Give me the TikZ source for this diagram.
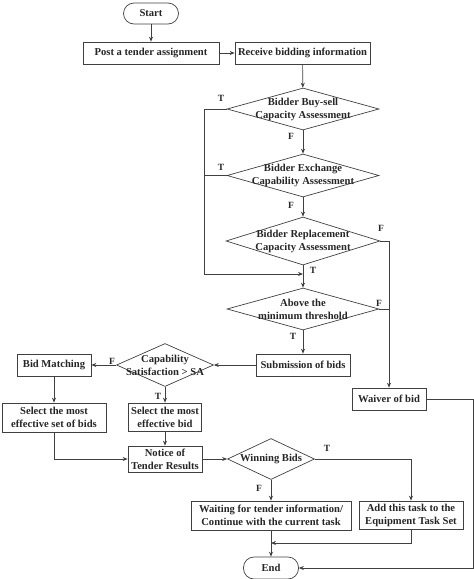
\documentclass[tikz,border=0pt]{standalone}
\usepackage{fontspec}
\setmainfont{Liberation Serif}
\usetikzlibrary{shapes.geometric,arrows.meta}
\begin{document}
\begin{tikzpicture}[x=1pt,y=-1pt,
  every node/.style={font=\bfseries\fontsize{10.6}{13}\selectfont, text=black!85},
  box/.style={draw=black!75, line width=0.7pt, rectangle, inner sep=0pt, align=center},
  term/.style={draw=black!75, line width=0.7pt, rectangle, rounded corners=10.5pt, inner sep=0pt},
  dec/.style={draw=black!75, line width=0.7pt, diamond, inner sep=0pt},
  dtext/.style={align=center, inner sep=0pt},
  lbl/.style={font=\bfseries\fontsize{9.5}{10}\selectfont, inner sep=0pt},
  line/.style={draw=black!75, line width=0.7pt},
  arr/.style={line, -{Stealth[length=5pt,width=4pt]}}
]
\useasboundingbox (0,0) rectangle (474,579);

\node[term, minimum width=55pt, minimum height=21pt] (start) at (151,13.5) {Start};
\node[box, minimum width=136pt, minimum height=22pt] (post) at (151,53) {Post a tender assignment};
\node[box, minimum width=135pt, minimum height=22pt] (recv) at (302.5,53) {Receive bidding information};

\node[dec, minimum width=152pt, minimum height=42pt] (d1) at (303,109) {};
\node[dtext] (t1) at (d1) {Bidder Buy-sell\\Capacity Assessment};
\node[dec, minimum width=152pt, minimum height=43pt] (d2) at (303,175.5) {};
\node[dtext] (t2) at (d2) {Bidder Exchange\\Capability Assessment};
\node[dec, minimum width=154pt, minimum height=48pt] (d3) at (303,241) {};
\node[dtext] (t3) at (d3) {Bidder Replacement\\Capacity Assessment};
\node[dec, minimum width=152pt, minimum height=42pt] (d4) at (303,309) {};
\node[dtext] (t4) at (d4) {Above the\\minimum threshold};

\node[box, minimum width=94pt, minimum height=22pt] (sub) at (303,365) {Submission of bids};
\node[dec, minimum width=97pt, minimum height=43pt] (d5) at (165,365) {};
\node[dtext] (t5) at (d5) {Capability\\Satisfaction > SA};
\node[box, minimum width=74pt, minimum height=22pt] (bm) at (54,365) {Bid Matching};
\node[box, minimum width=104pt, minimum height=29pt] (selset) at (54,417.5) {Select the most\\effective set of bids};
\node[box, minimum width=73pt, minimum height=28pt] (selbid) at (165,417) {Select the most\\effective bid};
\node[box, minimum width=74pt, minimum height=26pt] (notice) at (165,459) {Notice of\\Tender Results};
\node[dec, minimum width=87pt, minimum height=41pt] (d6) at (271,459) {};
\node[dtext] (t6) at (d6) {Winning Bids};
\node[box, minimum width=160pt, minimum height=29pt] (wait) at (271,515.5) {Waiting for tender information/\\Continue with the current task};
\node[box, minimum width=104pt, minimum height=28pt] (add) at (411,515) {Add this task to the\\Equipment Task Set};
\node[box, minimum width=74pt, minimum height=22pt] (waiver) at (389,399) {Waiver of bid};
\node[term, minimum width=55pt, minimum height=22pt] (end) at (271,568) {End};

\coordinate (lx) at (204,0);
\coordinate (ly) at (303,274);
\coordinate (rx) at (389,0);
\coordinate (mg) at (271,543);
\coordinate (rr) at (473,0);

\draw[arr] (start) -- (post);
\draw[arr] (post) -- (recv);
\draw[arr] (recv) -- (d1);
\draw[arr] (d1) -- (d2);
\draw[arr] (d2) -- (d3);
\draw[arr] (d3) -- (d4);
\draw[arr] (d1.west) -- (d1.west -| lx) |- (ly);
\draw[line] (d2.west) -- (d2.west -| lx);
\draw[arr] (d3.east) -- (d3.east -| rx) -- (waiver.north);
\draw[line] (d4.east) -- (d4.east -| rx);
\draw[arr] (d4) -- (sub);
\draw[arr] (sub) -- (d5);
\draw[arr] (d5) -- (bm);
\draw[arr] (bm) -- (selset);
\draw[arr] (d5) -- (selbid);
\draw[arr] (selbid) -- (notice);
\draw[arr] (selset.south) |- (notice.west);
\draw[arr] (notice) -- (d6);
\draw[arr] (d6.east) -| (add.north);
\draw[arr] (d6) -- (wait);
\draw[arr] (wait) -- (end);
\draw[arr] (add.south) |- (mg);
\draw[arr] (waiver.east) -- (waiver.east -| rr) |- (end.east);

\node[lbl] (l1) at (221,98) {T};
\node[lbl] (l2) at (221,167) {T};
\node[lbl] (l3) at (291,136) {F};
\node[lbl] (l4) at (291,205) {F};
\node[lbl] (l5) at (381,228) {F};
\node[lbl] (l6) at (313,270) {T};
\node[lbl] (l7) at (379,303) {F};
\node[lbl] (l8) at (293,336) {T};
\node[lbl] (l9) at (112,361) {F};
\node[lbl] (l10) at (158,396) {T};
\node[lbl] (l11) at (327,448) {T};
\node[lbl] (l12) at (259,488) {F};
\end{tikzpicture}
\end{document}
